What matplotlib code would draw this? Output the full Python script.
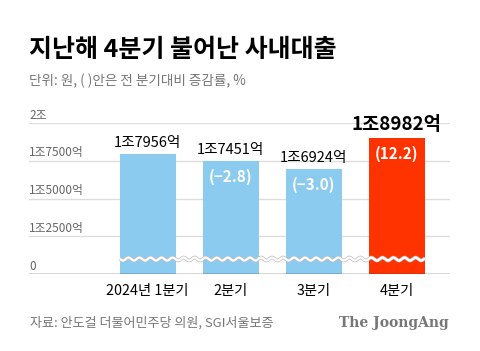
import numpy as np
import matplotlib.pyplot as plt

plt.rcParams['font.family'] = ['Noto Sans CJK KR', 'DejaVu Sans']

# data (억 won)
quarters = ['2024년 1분기', '2분기', '3분기', '4분기']
loans = [17956, 17451, 16924, 18982]
value_labels = ['1조7956억', '1조7451억', '1조6924억', '1조8982억']
changes = [None, '(−2.8)', '(−3.0)', '(12.2)']
tick_vals = [10000, 12500, 15000, 17500, 20000]
tick_labels = ['0', '1조2500억', '1조5000억', '1조7500억', '2조']

BLUE = '#8ccbf0'
RED = '#ff3300'
GRID = '#dddddd'

fig = plt.figure(figsize=(4.8, 3.51), dpi=100)
ax = fig.add_axes([29 / 480, 1 - 274 / 351, 421 / 480, 151 / 351])

x = np.arange(len(quarters))
colors = [BLUE, BLUE, BLUE, RED]
ax.bar(x, loans, width=0.675, color=colors, zorder=2)

ax.set_xlim(-1.43, 3.64)
ax.set_ylim(10000, 20000)

# grid lines + labels sitting on top of them
for v, lab in zip(tick_vals, tick_labels):
    if v == 10000:
        ax.axhline(v, color='#333333', lw=1.0, zorder=3)
    else:
        ax.axhline(v, color=GRID, lw=1.0, zorder=1)
    ax.annotate(lab, (0, v), xycoords=('axes fraction', 'data'),
                xytext=(0, 1), textcoords='offset points',
                ha='left', va='bottom', fontsize=8.5, color='#666666',
                annotation_clip=False)

# value labels
for i, (v, lab) in enumerate(zip(loans, value_labels)):
    last = i == len(loans) - 1
    ax.annotate(lab, (i, v), xytext=(0, 3), textcoords='offset points',
                ha='center', va='bottom', color='black',
                fontsize=13.5 if last else 10.5,
                fontweight='bold' if last else 'normal',
                annotation_clip=False)
    if changes[i]:
        ax.annotate(changes[i], (i, v), xytext=(0, -5), textcoords='offset points',
                    ha='center', va='top', color='white', fontsize=11,
                    fontweight='bold')

# axis break wave
wx = np.linspace(x[0] - 0.3375, x[-1] + 0.3375, 600)
wy = 10990 + 100 * np.sin(wx * 2 * np.pi / 0.133)
ax.plot(wx, wy, color='#bbbbbb', lw=2.6, zorder=4, solid_capstyle='butt')
ax.plot(wx, wy, color='white', lw=1.6, zorder=5, solid_capstyle='butt')

ax.set_xticks(x)
ax.set_xticklabels(quarters, fontsize=10.3, color='black')
ax.tick_params(axis='x', length=0, pad=7)
ax.set_yticks([])
for s in ax.spines.values():
    s.set_visible(False)

fig.text(29 / 480, 1 - 57 / 351, '지난해 4분기 불어난 사내대출', fontsize=18,
         fontweight='black', color='black', ha='left', va='baseline')
fig.text(29 / 480, 1 - 85 / 351, '단위: 원, ( )안은 전 분기대비 증감률, %', fontsize=9.8,
         color='#777777', ha='left', va='baseline')
fig.text(30 / 480, 1 - 327 / 351, '자료: 안도걸 더불어민주당 의원, SGI서울보증', fontsize=9.4,
         color='#777777', ha='left', va='baseline')
fig.text(449 / 480, 1 - 327 / 351, 'The JoongAng', fontsize=10, fontweight='bold',
         family='DejaVu Serif', color='#777777', ha='right', va='baseline')

fig.savefig('out.png', dpi=100, facecolor='white')
